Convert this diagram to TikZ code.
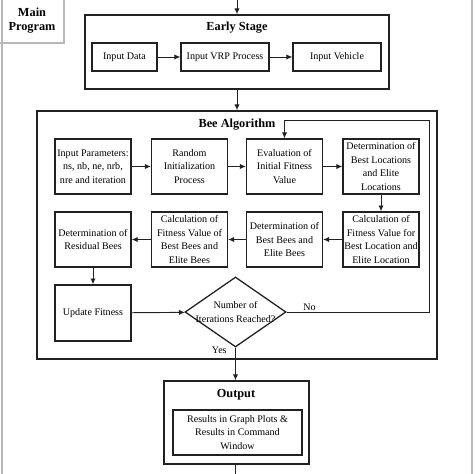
\documentclass[tikz,border=0pt]{standalone}
\usepackage{fontspec}
\setmainfont{Liberation Serif}
\usetikzlibrary{arrows.meta,shapes.geometric}
\definecolor{framegray}{rgb}{0.72,0.72,0.72}
\definecolor{ink}{rgb}{0.13,0.13,0.13}

\begin{document}
\begin{tikzpicture}[x=0.03cm,y=-0.03cm,
  box/.style={draw=ink,line width=1.1pt,align=center,inner sep=1pt,
    font=\fontsize{8.6}{11.5}\selectfont},
  stagebox/.style={draw=ink,line width=1.3pt},
  title/.style={font=\fontsize{10.5}{12}\selectfont\bfseries,align=center},
  decision/.style={draw=ink,line width=1.1pt,diamond,inner sep=0pt,
    minimum width=3.03cm,minimum height=2.1cm},
  link/.style={draw=ink,line width=0.8pt,-{Latex[length=5pt,width=4.5pt]}},
  frame/.style={draw=framegray,line width=1.4pt}]

\useasboundingbox (0,0) rectangle (474,474);

% outer grey frame and main program tab
\draw[frame] (2,-5) -- (2,480);
\draw[frame,line width=1pt] (472,-5) -- (472,480);
\draw[frame,line width=0.9pt] (0,43) -- (64,43) -- (64,-5);
\node[title] (main) at (32,21) {Main\\Program};

% early stage
\node[stagebox,minimum width=9.12cm,minimum height=2.22cm] (early) at (237,52) {};
\node[title] (earlyT) at (237,28) {Early Stage};
\node[box,minimum width=1.95cm,minimum height=0.84cm] (data) at (124.5,57) {Input Data};
\node[box,minimum width=2.64cm,minimum height=0.84cm] (vrp) at (225,57) {Input VRP Process};
\node[box,minimum width=2.64cm,minimum height=0.84cm] (vehicle) at (337,57) {Input Vehicle};
\coordinate (start) at (237,-5);
\draw[link] (start) -- (early.north);
\draw[link] (data) -- (vrp);
\draw[link] (vrp) -- (vehicle);

% bee algorithm
\node[stagebox,minimum width=12cm,minimum height=7.44cm] (bee) at (237,235) {};
\node[title] (beeT) at (237,125) {Bee Algorithm};
\draw[link] (early.south) -- (bee.north -| early.south);

\begin{scope}[every node/.append style={box,minimum width=2.28cm,minimum height=1.65cm}]
\node (param) at (93,166.5) {Input Parameters:\\ns, nb, ne, nrb,\\nre and iteration};
\node (random) at (189.5,166.5) {Random\\Initialization\\Process};
\node (eval) at (284.5,166.5) {Evaluation of\\Initial Fitness\\Value};
\node (bestloc) at (381,166.5) {Determination of\\Best Locations\\and Elite\\Locations};
\node (calcloc) at (381,239.5) {Calculation of\\Fitness Value for\\Best Location and\\Elite Location};
\node (bestbee) at (284.5,239.5) {Determination of\\Best Bees and\\Elite Bees};
\node (calcbee) at (189.5,239.5) {Calculation of\\Fitness Value of\\Best Bees and\\Elite Bees};
\node (residual) at (93,239.5) {Determination of\\Residual Bees};
\node[minimum height=1.68cm] (update) at (93,313) {Update Fitness};
\end{scope}

\node[decision] (iter) at (235.5,312) {};
\node[box,draw=none] (iterT) at (iter.center) {Number of\\Iterations Reached?};

\draw[link] (param) -- (random);
\draw[link] (random) -- (eval);
\draw[link] (eval) -- (bestloc);
\draw[link] (bestloc) -- (calcloc);
\draw[link] (calcloc) -- (bestbee);
\draw[link] (bestbee) -- (calcbee);
\draw[link] (calcbee) -- (residual);
\draw[link] (residual) -- (update);
\draw[link] (update) -- (iter);

\coordinate (loop) at (429,120);
\draw[link] (iter.east) -- node[pos=0.16,above,box,draw=none] {No}
  (iter.east -| loop) -- (loop) -| (eval.north);

% output
\node[stagebox,minimum width=4.35cm,minimum height=2.49cm] (output) at (236.5,422.5) {};
\node[title] (outputT) at (236,395) {Output};
\node[box,minimum width=3.87cm,minimum height=1.35cm] (result) at (237.5,432.5)
  {Results in Graph Plots \&\\Results in Command\\Window};
\draw[link] (iter.south) -- node[pos=0.08,left=6pt,box,draw=none] {Yes} (output.north -| iter.south);
\coordinate (finish) at (235.5,480);
\draw[draw=ink,line width=0.8pt] (output.south -| finish) -- (finish);
\end{tikzpicture}
\end{document}
